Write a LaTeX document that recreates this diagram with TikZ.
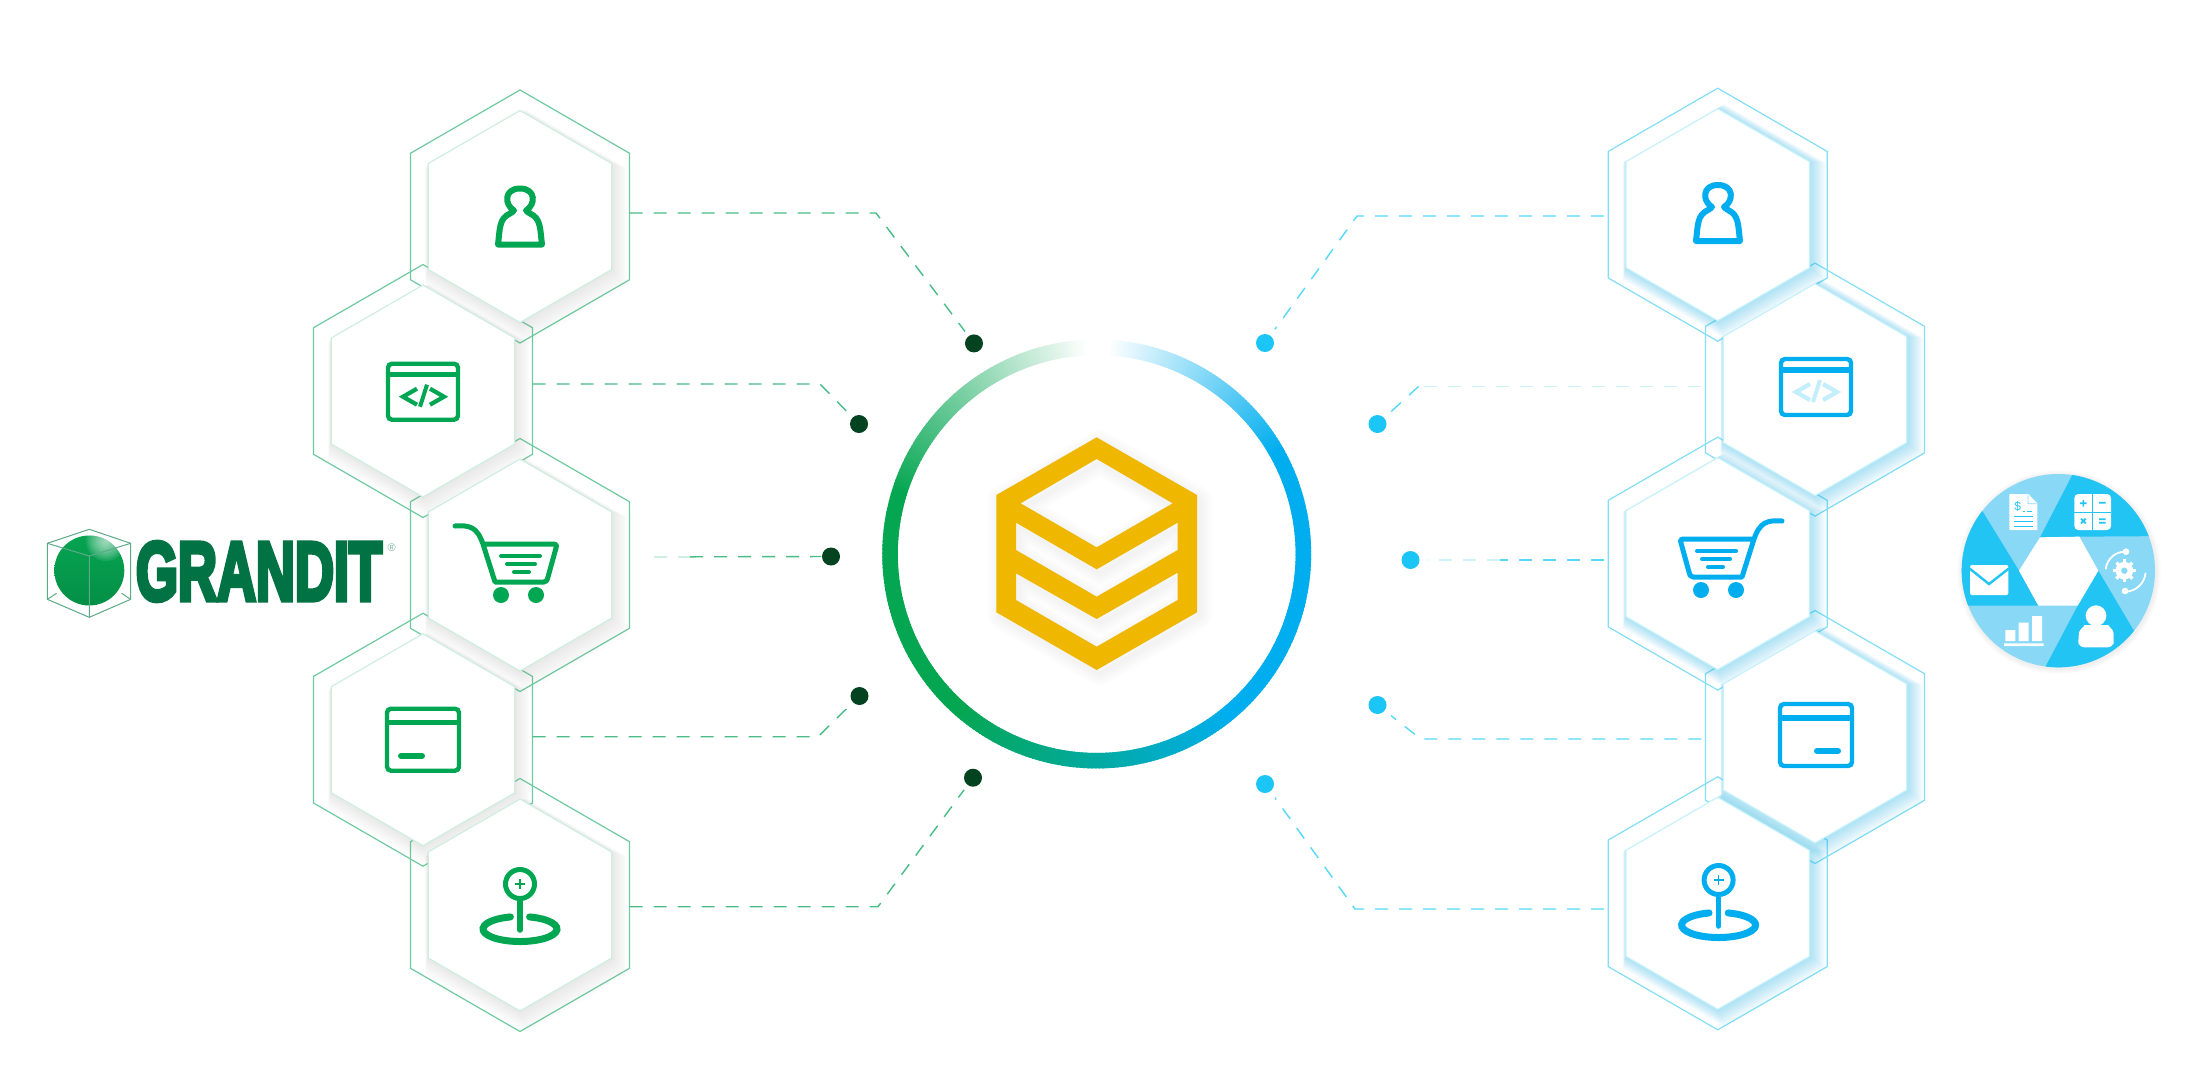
\documentclass[tikz,border=0pt]{standalone}
\usepackage{fontspec}
\setmainfont{Liberation Sans}
\usetikzlibrary{shapes.geometric,calc}
\definecolor{icL}{HTML}{00A651}
\definecolor{icR}{HTML}{00AEEF}
\definecolor{fadeR}{HTML}{C4EEFB}
\definecolor{outL}{HTML}{6ECB9F}
\definecolor{outR}{HTML}{83DEF7}
\definecolor{innL}{HTML}{CFEEE0}
\definecolor{innR}{HTML}{C8F2FC}
\definecolor{dashLc}{HTML}{45BD84}
\definecolor{dashRc}{HTML}{55D9F7}
\definecolor{dashFade}{HTML}{CDF3FD}
\definecolor{dashFadeL}{HTML}{CFEEE0}
\definecolor{dotLc}{HTML}{03431F}
\definecolor{dotRc}{HTML}{1BC5F5}
\definecolor{ringG}{HTML}{05A652}
\definecolor{ringB}{HTML}{00AEEF}
\definecolor{gold}{HTML}{EFB700}
\definecolor{logoG}{HTML}{007243}
\definecolor{cubeG}{HTML}{5EA98A}
\definecolor{wheelD}{HTML}{22C4F4}
\definecolor{wheelL}{HTML}{88D8F6}
\definecolor{ballMid}{HTML}{00B35D}
\newcommand{\hexline}[3]{(#1,#2-#3) -- (#1+.866*#3,#2-.5*#3) -- (#1+.866*#3,#2+.5*#3) -- (#1,#2+#3) -- (#1-.866*#3,#2+.5*#3) -- (#1-.866*#3,#2-.5*#3) -- cycle}
% centre x, centre y, colour, opacity, vertical shift factor
\newcommand{\softshadow}[5]{%
  \foreach \k in {1,...,11}{%
    \pgfmathsetmacro\sx{#1+.6*\k}%
    \pgfmathsetmacro\sy{#2+#5*\k}%
    \pgfmathsetmacro\sr{106+\k}%
    \fill[#3,opacity=#4] \hexline{\sx}{\sy}{\sr};%
  }}
\newcommand{\goldpath}{(710,382) -- (1011,555) -- (1011,907) -- (710,1080) -- (409,907) -- (409,555) -- cycle
  (710,447) -- (938,580) -- (710,712) -- (482,580) -- cycle
  (468,638) -- (710,778) -- (953,638) -- (953,720) -- (710,860) -- (468,720) -- cycle
  (468,790) -- (710,927) -- (953,788) -- (953,870) -- (710,1010) -- (468,870) -- cycle}
\tikzset{
  x=1pt,y=-1pt,
  outerhexL/.style={regular polygon,regular polygon sides=6,shape border rotate=30,minimum size=253pt,inner sep=0pt,outer sep=0pt,draw=outL,line width=1.2pt},
  outerhexR/.style={outerhexL,draw=outR},
  innerhexL/.style={regular polygon,regular polygon sides=6,shape border rotate=30,minimum size=212pt,inner sep=0pt,outer sep=0pt,draw=innL,line width=1.2pt,fill=white},
  innerhexR/.style={innerhexL,draw=innR},
  dotL/.style={circle,fill=dotLc,minimum size=18pt,inner sep=0pt,outer sep=0pt},
  dotR/.style={circle,fill=dotRc,minimum size=18pt,inner sep=0pt,outer sep=0pt},
  linkbase/.style={line width=1.4pt,dash pattern=on 13pt off 11pt},
  linkL/.style={linkbase,draw=dashLc,shorten >=6pt},
  linkR/.style={linkbase,draw=dashRc,shorten >=8pt,shorten <=4pt},
  pics/personicon/.style={code={
    \draw[#1,line width=6pt,line join=round]
      (-22,28) .. controls (-20,12) and (-21,2) .. (-10,-3)
      .. controls (-8,-4) and (-7,-5) .. (-6,-6)
      .. controls (-16,-12) and (-16,-28) .. (0,-28)
      .. controls (16,-28) and (16,-12) .. (6,-6)
      .. controls (7,-5) and (8,-4) .. (10,-3)
      .. controls (21,2) and (20,12) .. (22,28) -- cycle;
  }},
  pics/codeicon/.style 2 args={code={
    \draw[#1,line width=4.4pt,rounded corners=4pt] (-35,-28) rectangle (35,28);
    \draw[#1,line width=5.5pt] (-35,-17) -- (35,-17);
    \draw[#2,line width=4.2pt] (-6,-3) -- (-20,5) -- (-6,13);
    \draw[#2,line width=4.2pt] (7,-3) -- (21,5) -- (7,13);
    \draw[#2,line width=4pt] (4,-7) -- (-3,15);
  }},
  pics/carticon/.style={code={
    \draw[#1,line width=5pt,line cap=round,line join=round]
      (-65,-39) .. controls (-50,-40) and (-43,-38) .. (-37,-21)
      -- (-25,17) -- (24,17) .. controls (27,17) and (27,15) .. (28,12) -- (36,-17) .. controls (37,-20) and (36,-21) .. (33,-21) -- (-37,-21);
    \draw[#1,line width=4pt,line cap=round] (-19,-9) -- (20,-9);
    \draw[#1,line width=4pt,line cap=round] (-13,-1) -- (15,-1);
    \draw[#1,line width=4pt,line cap=round] (-6,7) -- (9,7);
    \fill[#1] (-19,30) circle (8);
    \fill[#1] (16,30) circle (8);
  }},
  pics/windowicon/.style={code={
    \draw[#1,line width=4.4pt,rounded corners=4pt] (-36,-31) rectangle (36,31);
    \draw[#1,line width=5.5pt] (-36,-17) -- (36,-17);
    \draw[#1,line width=6pt,line cap=round] (-22,16) -- (-1,16);
  }},
  pics/pinicon/.style={code={
    \draw[#1,line width=5pt] (0,-21) circle (14.5);
    \draw[#1,line width=1.6pt] (-5,-21) -- (5,-21) (0,-26) -- (0,-16);
    \draw[#1,line width=5.5pt,line cap=round] (0,-5) -- (0,25);
    \draw[#1,line width=7pt,line cap=round] (0,24) ++(285:37 and 12.5) arc[start angle=285,end angle=615,x radius=37,y radius=12.5];
  }}
}
\begin{document}
\begin{tikzpicture}
\useasboundingbox (0,0) rectangle (2198,1080);
\fill[white] (0,0) rectangle (2198,1080);

% outer hexagons
\node[outerhexL] (hl1) at (520,216.5) {};
\node[outerhexL] (hl2) at (423,391) {};
\node[outerhexL] (hl3) at (520,565) {};
\node[outerhexL] (hl4) at (423,739.7) {};
\node[outerhexL] (hl5) at (520,905) {};
\node[outerhexR] (hr1) at (1717.7,214.7) {};
\node[outerhexR] (hr2) at (1815,389.6) {};
\node[outerhexR] (hr3) at (1717.7,563.6) {};
\node[outerhexR] (hr4) at (1815,737) {};
\node[outerhexR] (hr5) at (1717.7,903.3) {};

% dots
\node[dotL] (dl1) at (974,343.4) {};
\node[dotL] (dl2) at (859,424) {};
\node[dotL] (dl3) at (831,556.5) {};
\node[dotL] (dl4) at (859.5,696) {};
\node[dotL] (dl5) at (973,777.7) {};
\node[dotR] (dr1) at (1265,343) {};
\node[dotR] (dr2) at (1377.5,424) {};
\node[dotR] (dr3) at (1410.5,560) {};
\node[dotR] (dr4) at (1377.5,705) {};
\node[dotR] (dr5) at (1265,784) {};

% connectors left
\coordinate (bl1) at (876,213);
\coordinate (bl2) at (820,384);
\coordinate (sl3) at (654,556.8);
\coordinate (ml3) at (690,556.8);
\coordinate (bl4) at (818,736.7);
\coordinate (bl5) at (878,906.7);
\draw[linkL] (hl1.east |- bl1) -- (bl1) -- (dl1);
\draw[linkL] (hl2.east |- bl2) -- (bl2) -- (dl2);
\draw[linkbase,draw=dashFadeL] (sl3) -- (ml3);
\draw[linkL,shorten >=1pt] (ml3) -- (dl3);
\draw[linkL] (hl4.east |- bl4) -- (bl4) -- (dl4);
\draw[linkL] (hl5.east |- bl5) -- (bl5) -- (dl5);

% connectors right
\coordinate (br1) at (1357,216);
\coordinate (br2) at (1418.6,386.4);
\coordinate (mr3) at (1500,560);
\coordinate (br4) at (1420.8,739);
\coordinate (br5) at (1355,909);
\draw[linkR] (hr1.west |- br1) -- (br1) -- (dr1);
\draw[linkbase,draw=dashFade,shorten <=4pt] (hr2.west |- br2) -- (br2);
\draw[linkR,shorten <=0pt] (br2) -- (dr2);
\draw[linkbase,draw=dashRc,shorten <=4pt] (hr3.west |- mr3) -- (mr3);
\draw[linkbase,draw=dashFade,shorten >=8pt] (mr3) -- (dr3);
\draw[linkR] (hr4.west |- br4) -- (br4) -- (dr4);
\draw[linkR] (hr5.west |- br5) -- (br5) -- (dr5);

% inner hexagons, each with its soft shadow
\softshadow{520}{216.5}{black!40}{.02}{1}
\node[innerhexL] (il1) at (hl1) {};
\softshadow{423}{391}{black!40}{.02}{1}
\node[innerhexL] (il2) at (hl2) {};
\softshadow{520}{565}{black!40}{.02}{1}
\node[innerhexL] (il3) at (hl3) {};
\softshadow{423}{739.7}{black!40}{.02}{1}
\node[innerhexL] (il4) at (hl4) {};
\softshadow{520}{905}{black!40}{.02}{1}
\node[innerhexL] (il5) at (hl5) {};
\softshadow{1717.7}{214.7}{ringB}{.03}{.6}
\node[innerhexR] (ir1) at (hr1) {};
\softshadow{1815}{389.6}{ringB}{.03}{.6}
\node[innerhexR] (ir2) at (hr2) {};
\softshadow{1717.7}{563.6}{ringB}{.03}{.6}
\node[innerhexR] (ir3) at (hr3) {};
\softshadow{1815}{737}{ringB}{.03}{.6}
\node[innerhexR] (ir4) at (hr4) {};
\softshadow{1717.7}{903.3}{ringB}{.03}{.6}
\node[innerhexR] (ir5) at (hr5) {};

% icons
\pic at (520,216.5) {personicon=icL};
\pic at (423,391.7) {codeicon={icL}{icL}};
\pic at (520,565) {carticon=icL};
\pic at (423,739.7) {windowicon=icL};
\pic at (520,905) {pinicon=icL};
\pic at (1718,213) {personicon=icR};
\pic at (1816,387) {codeicon={icR}{fadeR}};
\pic[xscale=-1] at (1717,560) {carticon=icR};
\pic[xscale=-1] at (1816,735) {windowicon=icR};
\pic at (1718.6,901) {pinicon=icR};

% central ring
\foreach \a in {0,...,359}{%
  \pgfmathsetmacro\ph{mod(\a-270+720,360)}%
  \pgfmathsetmacro\pb{min(100,max(0,(\ph-3)/57*100))}%
  \pgfmathsetmacro\pg{min(100,max(0,(357-\ph)/70*100))}%
  \pgfmathsetmacro\pmin{min(\pb,\pg)}%
  \pgfmathsetmacro\mv{min(100,max(0,(\ph-140)/80*100))}%
  \colorlet{ringbase}{ringG!\mv!ringB}%
  \colorlet{ringc}{ringbase!\pmin!white}%
  \draw[line width=15.5pt,ringc] ([shift={(1096.7,554)}]\a:206.7) arc[start angle=\a,end angle=\a+1.6,radius=206.7];
}

% gold stacked icon
\begin{scope}[shift={(860,310)},x=.33333pt,y=-.33333pt]
  \foreach \w in {24,20,16,12,8,4}{
    \draw[black!50,opacity=.01,line width=\w pt,line join=round,shift={(9,12)}] \goldpath;
  }
  \fill[gold,even odd rule] \goldpath;
\end{scope}

% GRANDIT logo
\begin{scope}
  \clip (89.3,570.5) circle (35);
  \shade[top color=ringG,middle color=ballMid,bottom color=ringG!85!black] (50,530) rectangle (130,610);
  \foreach \r in {2,4,...,20}{
    \fill[white,opacity=.09] (106,541) circle (\r);
  }
\end{scope}
\draw[cubeG,line width=1pt,line join=round] (89.3,529.3) -- (130.7,543.3) -- (130.7,599.3) -- (89.3,617.3) -- (47.3,599.3) -- (47.3,543.3) -- cycle;
\draw[cubeG,line width=1pt] (47.3,543.3) -- (89.3,556) -- (130.7,543.3) (89.3,556) -- (89.3,617.3) (47.3,599.3) -- (56.6,593.3) (130.7,599.3) -- (121.6,593.3);
\node[inner sep=0pt,outer sep=0pt,text=logoG] (logo) at (259,571.5) {\resizebox{246pt}{58pt}{\addfontfeature{FakeBold=6}\bfseries GRANDIT}};
\node[inner sep=0pt,text=logoG!50!white,font=\fontsize{11}{11}\selectfont] (regmark) at (391.7,547.7) {®};

% service wheel
\begin{scope}[shift={(1940,450)},x=.33333pt,y=-.33333pt]
  \foreach \k in {2,4,...,16}{
    \fill[black!60,opacity=.01] (357,366) circle[radius=290+\k];
  }
  \begin{scope}
    \clip (355,362) circle[radius=290];
    \fill[wheelL] (0,0) rectangle (720,720);
    \fill[wheelD] (300,262) -- (420,30) -- (700,30) -- (700,258) -- (418,260) -- cycle;
    \fill[wheelD] (475,362) -- (620,607) -- (620,700) -- (290,700) -- (413,467) -- cycle;
    \fill[wheelD] (295,467) -- (20,467) -- (20,100) -- (76,100) -- (237,362) -- cycle;
  \end{scope}
  \fill[white] (300,262) -- (418,260) -- (475,362) -- (413,467) -- (295,467) -- (237,362) -- cycle;
  % invoice
  \fill[white] (208,132) -- (265,132) -- (292,160) -- (292,240) -- (208,240) -- cycle;
  \fill[wheelL] (263,134) -- (263,162) -- (290,162) -- (290,160) -- (265,160) -- (265,134) -- cycle;
  \node[inner sep=0pt,text=wheelD,font=\fontsize{12}{12}\selectfont] (dollar) at (233,168) {\$};
  \draw[wheelD,line width=1pt] (222,198) -- (280,198) (222,213) -- (278,213) (222,228) -- (278,228) (250,185) -- (256,185) (262,185) -- (276,185);
  % calculator
  \fill[white,rounded corners=4pt] (403,132) rectangle (513,240);
  \draw[wheelD,line width=1pt] (458,132) -- (458,240) (403,186) -- (513,186);
  \draw[wheelD,line width=1.7pt] (420,160) -- (440,160) (430,150) -- (430,170) (477,158) -- (497,158) (423,206) -- (437,220) (437,206) -- (423,220) (477,208) -- (497,208) (477,218) -- (497,218);
  % gear with orbit arcs
  \draw[white,line width=5.5pt] (553,362) circle[radius=18];
  \foreach \t in {0,45,...,315}{
    \draw[white,line width=3.4pt] ([shift={(553,362)}]\t:22) -- ([shift={(553,362)}]\t:34);
  }
  \draw[white,line width=1.8pt] ([shift={(555,363)}]185:58) arc[start angle=185,end angle=268,radius=58];
  \draw[white,line width=1.8pt] ([shift={(555,363)}]5:62) arc[start angle=5,end angle=88,radius=62];
  \fill[white] (558,305) circle[radius=10] (555,423) circle[radius=10];
  % person
  \fill[white] (468,497) circle[radius=31];
  \fill[white,rounded corners=6pt] (415,592) -- (415,565) .. controls (418,538) and (440,525) .. (450,525) -- (488,525) .. controls (500,525) and (520,538) .. (521,565) -- (521,592) -- cycle;
  % bar chart
  \fill[white] (192,580) rectangle (311,588) (196,540) rectangle (226,573) (236,518) rectangle (266,573) (276,498) rectangle (306,573);
  % envelope
  \fill[white,rounded corners=2pt] (90,345) rectangle (205,435);
  \draw[wheelD,line width=2.4pt] (88,355) -- (147,402) -- (207,355);
\end{scope}
\end{tikzpicture}
\end{document}
